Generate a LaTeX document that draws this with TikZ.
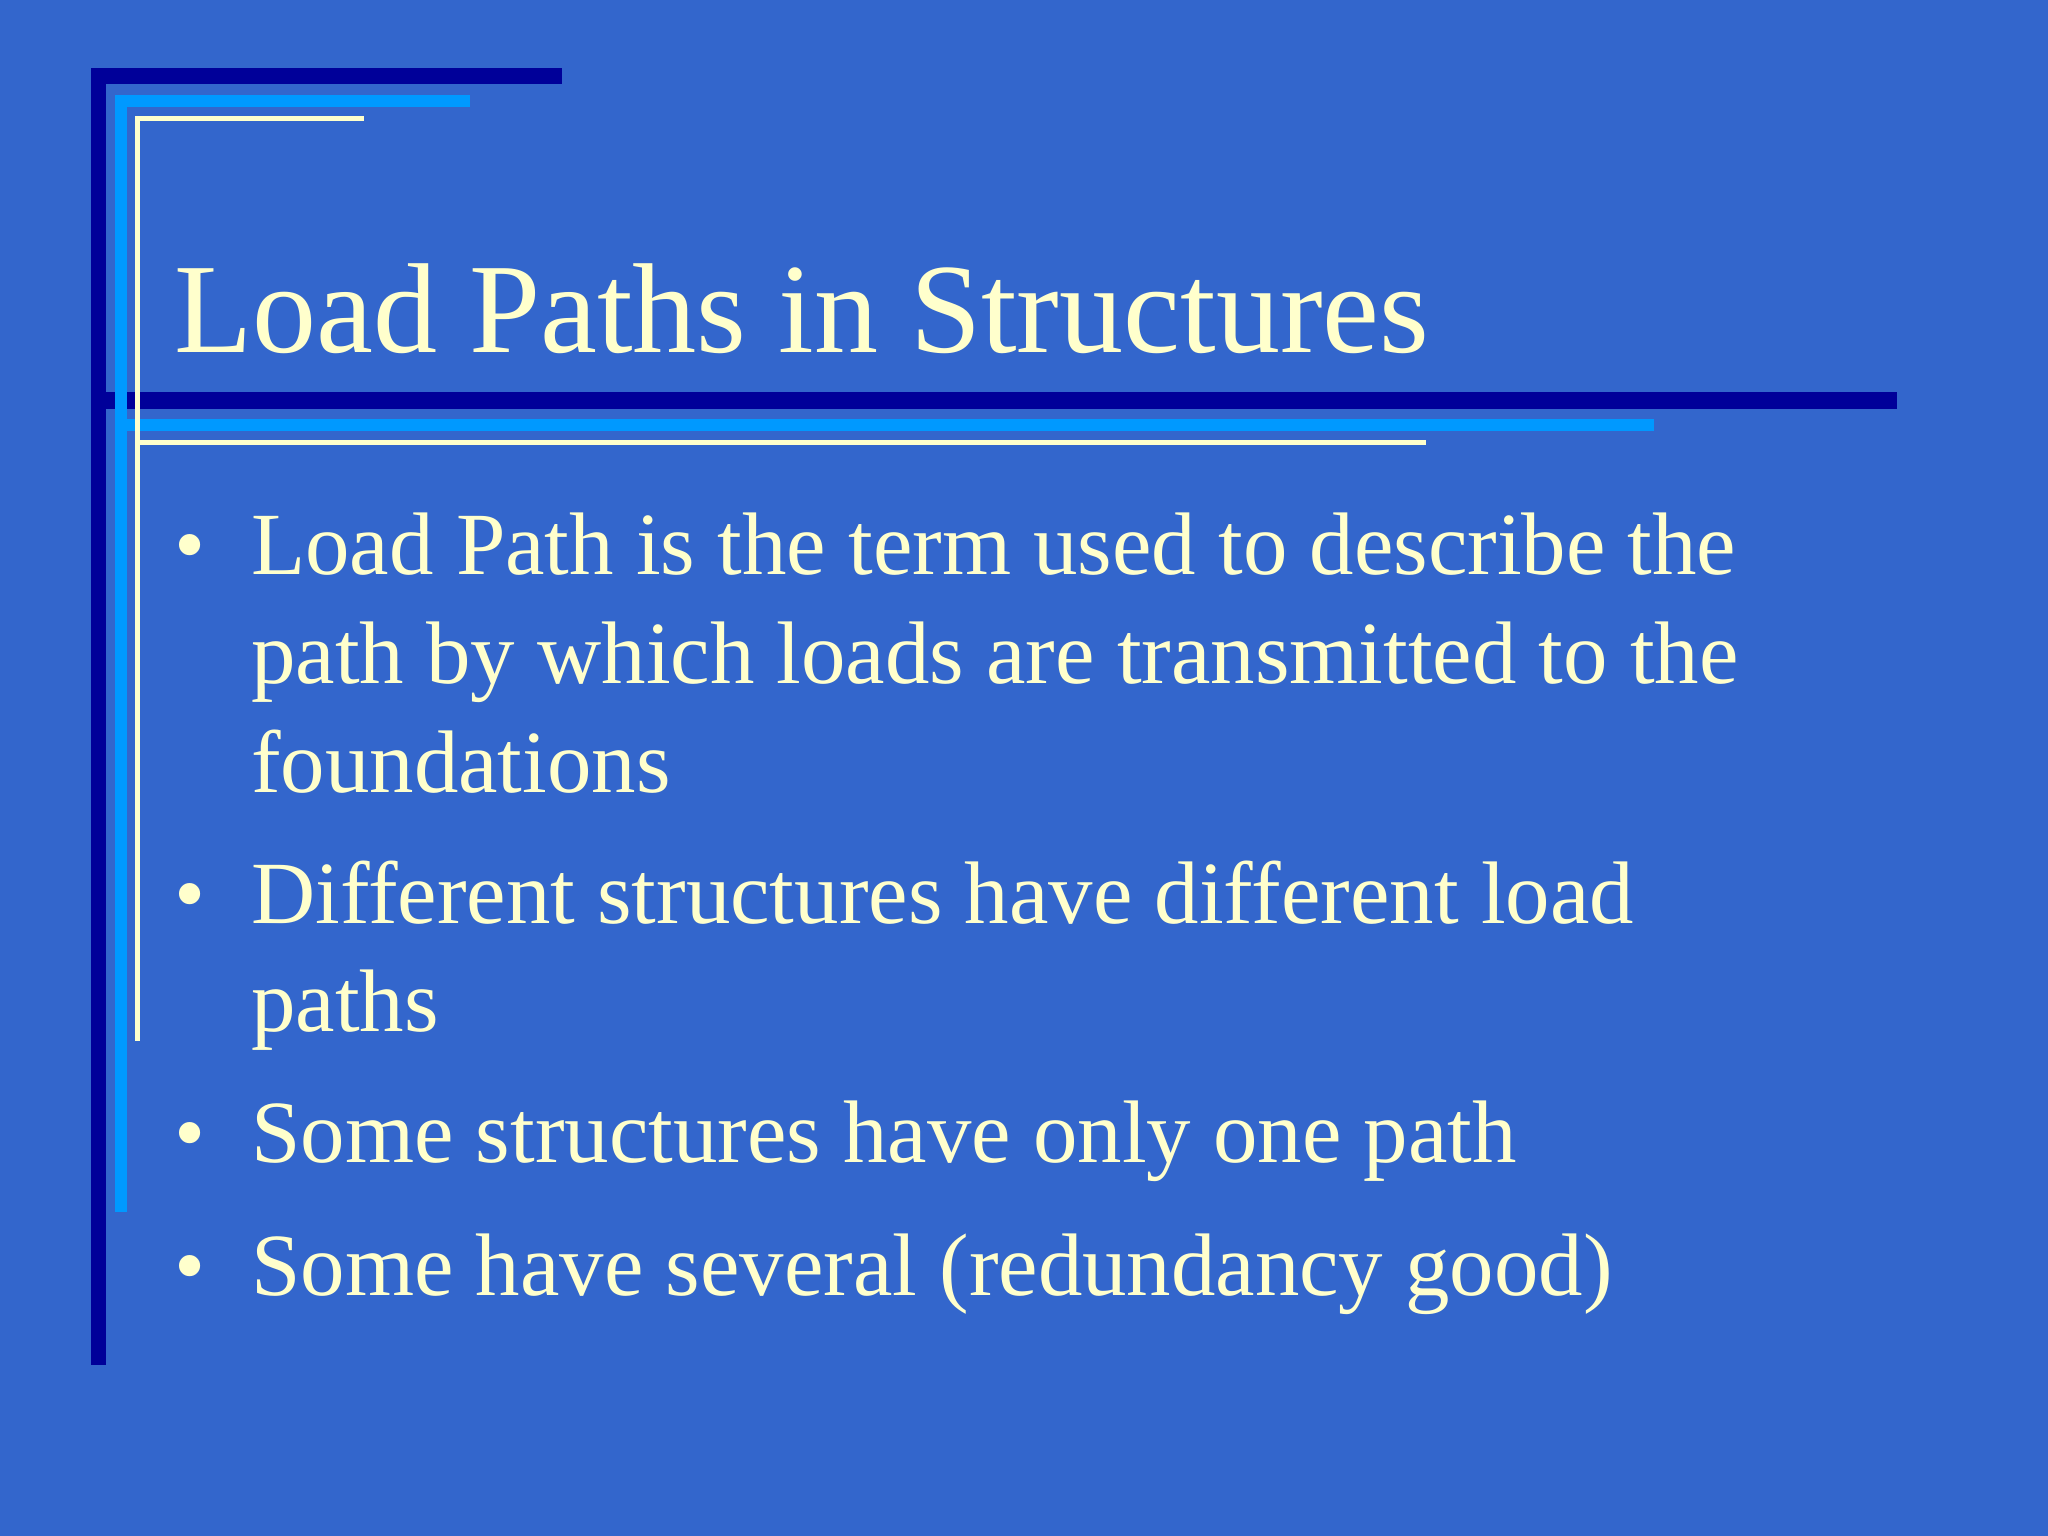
\documentclass[tikz,border=0pt]{standalone}
\usepackage{fontspec}
\setmainfont{Liberation Serif}
\definecolor{bg}{HTML}{3366CC}
\definecolor{navy}{HTML}{000099}
\definecolor{lblue}{HTML}{0099FF}
\definecolor{cream}{HTML}{FFFFCC}
\tikzset{txt/.style={anchor=base west,inner sep=0pt,text=cream,font=\fontsize{34}{40}\selectfont},
 bul/.style={anchor=base west,inner sep=0pt,text=cream,font=\fontsize{34}{40}\selectfont}}
\begin{document}
\begin{tikzpicture}[x=0.5pt,y=-0.5pt]
\fill[bg] (0,0) rectangle (1568,1176);
\useasboundingbox (0,0) rectangle (1568,1176);
% navy
\fill[navy] (70,52) rectangle (81,1045);
\fill[navy] (70,52) rectangle (430,64);
\fill[navy] (70,300) rectangle (1452,313);
% light blue
\fill[lblue] (88,73) rectangle (97,928);
\fill[lblue] (88,73) rectangle (360,82);
\fill[lblue] (88,321) rectangle (1266,330);
% cream
\fill[cream] (103,89) rectangle (107,797);
\fill[cream] (103,89) rectangle (279,93);
\fill[cream] (103,337) rectangle (1092,341);
\node[anchor=base west,inner sep=0pt,text=cream,font=\fontsize{49}{55}\selectfont] (title) at (133,270) {Load Paths in Structures};
\node[bul] (b1) at (133,440) {•};
\node[txt] (l1) at (192,440) {Load Path is the term used to describe the};
\node[txt] (l2) at (192,523) {path by which loads are transmitted to the};
\node[txt] (l3) at (192,607) {foundations};
\node[bul] (b2) at (133,707) {•};
\node[txt] (l4) at (192,707) {Different structures have different load};
\node[txt] (l5) at (192,790) {paths};
\node[bul] (b3) at (133,890) {•};
\node[txt] (l6) at (192,890) {Some structures have only one path};
\node[bul] (b4) at (133,992) {•};
\node[txt] (l7) at (192,992) {Some have several (redundancy good)};
\end{tikzpicture}
\end{document}
